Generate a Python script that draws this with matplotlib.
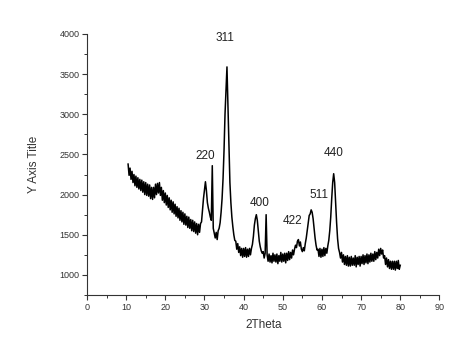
import numpy as np
import matplotlib
matplotlib.use('Agg')
import matplotlib.pyplot as plt
from matplotlib.ticker import MultipleLocator

plt.rcParams['font.family'] = ['Liberation Sans', 'DejaVu Sans']

# ---------------------------------------------------------------------
# Data (0.25 deg sampling, 10.5 .. 80)
# ---------------------------------------------------------------------
two_theta = np.arange(10.5, 80.01, 0.25)

intensity = [
    2380, 2240,
    2330, 2190, 2290, 2150,   # 11
    2250, 2110, 2230, 2090,   # 12
    2210, 2070, 2190, 2050,   # 13
    2180, 2030, 2160, 2000,   # 14
    2150, 1990, 2130, 1980,   # 15
    2120, 1950, 2090, 1940,   # 16
    2090, 1960, 2130, 2000,   # 17
    2140, 2020, 2150, 1990,   # 18
    2090, 1930, 2050, 1900,   # 19
    2020, 1870, 1990, 1840,   # 20
    1960, 1810, 1930, 1780,   # 21
    1910, 1760, 1880, 1730,   # 22
    1850, 1710, 1830, 1680,   # 23
    1800, 1660, 1780, 1630,   # 24
    1760, 1620, 1730, 1590,   # 25
    1720, 1580, 1690, 1550,   # 26
    1680, 1540, 1660, 1520,   # 27
    1640, 1500, 1630, 1530,   # 28
    1640, 1660, 1800, 1950,   # 29
    2060, 2160, 2050, 1900,   # 30
    1830, 1780, 1720, 1680,   # 31
    2360, 1580, 1520, 1460,   # 32
    1530, 1440, 1550, 1580,   # 33
    1650, 1780, 1950, 2200,   # 34
    2550, 3000, 3300, 3590,   # 35
    3100, 2600, 2150, 1900,   # 36
    1720, 1600, 1500, 1430,   # 37
    1420, 1320, 1390, 1280,   # 38
    1350, 1240, 1330, 1220,   # 39
    1330, 1230, 1340, 1220,   # 40
    1320, 1230, 1330, 1250,   # 41
    1330, 1380, 1480, 1620,   # 42
    1700, 1750, 1680, 1550,   # 43
    1420, 1350, 1300, 1270,   # 44
    1290, 1210, 1270, 1750,   # 45
    1250, 1170, 1260, 1160,   # 46
    1240, 1150, 1270, 1170,   # 47
    1250, 1160, 1260, 1140,   # 48
    1240, 1170, 1280, 1160,   # 49
    1260, 1170, 1270, 1150,   # 50
    1270, 1180, 1290, 1190,   # 51
    1280, 1210, 1310, 1250,   # 52
    1320, 1370, 1340, 1420,   # 53
    1440, 1360, 1410, 1320,   # 54
    1290, 1340, 1300, 1390,   # 55
    1460, 1550, 1650, 1740,   # 56
    1760, 1810, 1780, 1700,   # 57
    1580, 1460, 1370, 1310,   # 58
    1320, 1230, 1330, 1220,   # 59
    1320, 1230, 1340, 1240,   # 60
    1330, 1270, 1360, 1430,   # 61
    1550, 1720, 1950, 2150,   # 62
    2260, 2150, 1900, 1650,   # 63
    1450, 1330, 1280, 1210,   # 64
    1280, 1160, 1250, 1130,   # 65
    1230, 1120, 1240, 1110,   # 66
    1220, 1110, 1230, 1120,   # 67
    1210, 1120, 1240, 1100,   # 68
    1220, 1130, 1230, 1110,   # 69
    1230, 1140, 1250, 1130,   # 70
    1240, 1150, 1260, 1140,   # 71
    1250, 1160, 1270, 1170,   # 72
    1260, 1170, 1290, 1190,   # 73
    1280, 1210, 1320, 1240,   # 74
    1330, 1260, 1310, 1210,   # 75
    1240, 1130, 1210, 1100,   # 76
    1190, 1080, 1170, 1070,   # 77
    1170, 1070, 1170, 1060,   # 78
    1170, 1080, 1180, 1070,   # 79
    1120,
]

# peak labels (hkl) and where they sit
peak_labels = ['311', '220', '400', '422', '511', '440']
label_x = [35.3, 30.2, 44.2, 52.5, 59.2, 63.1]
label_y = [3950, 2480, 1895, 1670, 1995, 2515]

# ---------------------------------------------------------------------
# Plot
# ---------------------------------------------------------------------
fig = plt.figure(figsize=(4.74, 3.6), dpi=100)
ax = fig.add_axes([0.1835, 0.1806, 0.7435, 0.725])

ax.plot(two_theta, intensity, color='black', lw=1.1)

for lab, lx, ly in zip(peak_labels, label_x, label_y):
    ax.text(lx, ly, lab, ha='center', va='center', fontsize=8.5, color='#222222')

ax.set_xlim(0, 90)
ax.set_ylim(750, 4000)
ax.set_yticks(np.arange(1000, 4001, 500))
ax.xaxis.set_major_locator(MultipleLocator(10))
ax.xaxis.set_minor_locator(MultipleLocator(5))
ax.yaxis.set_minor_locator(MultipleLocator(250))

ax.spines['top'].set_visible(False)
ax.spines['right'].set_visible(False)
for s in ('left', 'bottom'):
    ax.spines[s].set_linewidth(0.8)
    ax.spines[s].set_color('#333333')

ax.tick_params(which='major', direction='out', length=3.5, width=0.8,
               labelsize=6.5, colors='#333333', pad=2)
ax.tick_params(which='minor', direction='out', length=2, width=0.7,
               colors='#333333')

ax.set_xlabel('2Theta', fontsize=8.5, color='#333333', labelpad=5)
ax.set_ylabel('Y Axis Title', fontsize=8.5, color='#333333', labelpad=14)

fig.savefig('out.png', dpi=100)
